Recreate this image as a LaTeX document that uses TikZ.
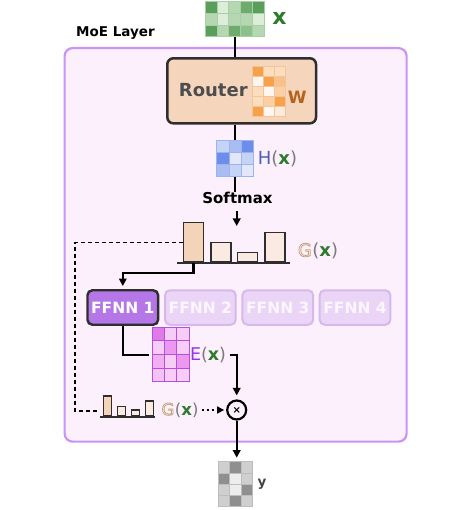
\documentclass[tikz,border=0pt]{standalone}
\usepackage{fontspec}
\setmainfont{DejaVu Sans}
\usetikzlibrary{arrows.meta,calc}

\definecolor{moefill}{HTML}{FCF0FC}
\definecolor{moeborder}{HTML}{C994F2}
\definecolor{routerfill}{HTML}{F5D6BD}
\definecolor{darkline}{HTML}{2E2E2E}
\definecolor{routertext}{HTML}{4D4D4D}
\definecolor{wcol}{HTML}{B4621E}
\definecolor{xgreen}{HTML}{2E7A2E}
\definecolor{hblue}{HTML}{4B5FB5}
\definecolor{epurple}{HTML}{9B30E8}
\definecolor{paren}{HTML}{7A7A7A}
\definecolor{ffnnA}{HTML}{B577E8}
\definecolor{ffnnB}{HTML}{EAD5F6}
\definecolor{ffnnBd}{HTML}{D6B9EA}
\definecolor{ffnnBt}{HTML}{FBF5FE}
\definecolor{barA}{HTML}{F4D4B8}
\definecolor{barB}{HTML}{FAEAE2}
\definecolor{gin}{HTML}{F9EEE2}
\definecolor{ytext}{HTML}{444444}
% green
\definecolor{gA}{HTML}{5A9E5C}
\definecolor{gA2}{HTML}{6EAB6D}
\definecolor{gB}{HTML}{8DC08C}
\definecolor{gC}{HTML}{B5D8B3}
\definecolor{gD}{HTML}{DCEEDA}
\definecolor{gline}{HTML}{A9CFA7}
% orange
\definecolor{oA}{HTML}{F7A14B}
\definecolor{oB}{HTML}{FAC08A}
\definecolor{oB2}{HTML}{FBCFA3}
\definecolor{oC}{HTML}{FCDDBE}
\definecolor{oD}{HTML}{FEEBDA}
\definecolor{oW}{HTML}{FFF7EF}
\definecolor{oline}{HTML}{F2C59A}
% blue
\definecolor{hA}{HTML}{6C8DEB}
\definecolor{hB}{HTML}{A9BDF2}
\definecolor{hC}{HTML}{C5D3F7}
\definecolor{hD}{HTML}{E2E8FA}
\definecolor{hline}{HTML}{9DB3EE}
% purple
\definecolor{eA}{HTML}{E07AE7}
\definecolor{eA2}{HTML}{EC98EE}
\definecolor{eB}{HTML}{F1AFF2}
\definecolor{eC}{HTML}{F7CCF7}
\definecolor{eC2}{HTML}{F4C2F5}
\definecolor{eline}{HTML}{B44FE3}
% gray
\definecolor{yA}{HTML}{8F8F8F}
\definecolor{yL}{HTML}{CFCFCF}
\definecolor{yD}{HTML}{EDEDED}
\definecolor{yline}{HTML}{BDBDBD}

\newcommand{\mygrid}[7]{%
  \foreach \rowlist [count=\r] in {#7} {
    \foreach \cc [count=\k] in \rowlist {
      \filldraw[fill=\cc, draw=#5, line width=#6]
        ({#1+(\k-1)*#3},{#2+(\r-1)*#4}) rectangle ++(#3,#4);
    }
  }
}
% outlined G: fill light, stroke tan (text render mode 2)
\newcommand{\hollowG}{{\color{gin}\special{pdf:literal direct 0.76 0.62 0.48 RG 0.75 w 1 j 2 Tr}G\special{pdf:literal direct 0 Tr}}}
\newcommand{\Gx}{\hollowG\kern0.6pt\textcolor{paren}{(}\textcolor{xgreen}{\bfseries x}\textcolor{paren}{)}}

\begin{document}
\begin{tikzpicture}[x=1pt,y=-1pt,
  lbl/.style={inner sep=0pt},
  gridnode/.style={inner sep=0pt, anchor=north west},
  conn/.style={draw=black, line width=2.1pt},
  arr/.style={draw=black, line width=2.1pt, -{Triangle[length=7.5pt,width=7.5pt]}},
  dashline/.style={draw=black, line width=1.6pt, dash pattern=on 4pt off 3pt},
  dotarr/.style={draw=black, line width=1.6pt, dash pattern=on 2pt off 3pt, -{Triangle[length=7pt,width=7pt]}},
  bar/.style={draw=darkline, line width=1.6pt, inner sep=0pt, anchor=south west, minimum width=20pt},
  sbar/.style={draw=darkline, line width=1.3pt, inner sep=0pt, anchor=south west, minimum width=8pt},
  ffnn/.style={rounded corners=5pt, minimum width=70.7pt, minimum height=34.5pt, inner sep=0pt,
    font=\bfseries\fontsize{15.5}{17}\selectfont},
  ffnnon/.style={ffnn, fill=ffnnA, draw=darkline, line width=2.4pt, text=white},
  ffnnoff/.style={ffnn, fill=ffnnB, draw=ffnnBd, line width=2pt, text=ffnnBt},
]
\useasboundingbox (0,0) rectangle (474,510);

% MoE layer box
\node[draw=moeborder, fill=moefill, line width=2.2pt, rounded corners=8pt, inner sep=0pt,
  minimum width=342pt, minimum height=393.5pt, anchor=north west] (moe) at (63.5,47) {};
\node[lbl, font=\bfseries\fontsize{13.5}{15}\selectfont] (moelbl) at (115.5,33.3) {MoE Layer};

% input x
\node[gridnode, minimum width=59.3pt, minimum height=35pt] (X) at (205,1.7) {};
\mygrid{205}{1.7}{11.86}{11.67}{gline}{0.6pt}{{gA,gD,gC,gA2,gA},{gC,gD,gC,gC,gD},{gA,gC,gA2,gB,gC}}
\node[lbl, text=xgreen, font=\bfseries\fontsize{22}{22}\selectfont] (xl) at (279.5,18.5) {x};

% Router
\node[draw=darkline, fill=routerfill, line width=2.5pt, rounded corners=6pt, inner sep=0pt,
  minimum width=148.7pt, minimum height=65pt] (router) at (241.65,90.8) {};
\node[lbl, text=routertext, font=\bfseries\fontsize{18}{20}\selectfont] (routerlbl) at (213.3,90) {Router};
\node[gridnode, minimum width=33pt, minimum height=49.4pt] (W) at (252.7,66.7) {};
\mygrid{252.7}{66.7}{11}{9.88}{oline}{0.6pt}{{oA,oC,oC},{oW,oA,oB},{oC,oW,oB2},{oC,oB2,oA},{oA,oW,oD}}
\node[lbl, text=wcol, font=\bfseries\fontsize{17}{17}\selectfont] (wl) at (297.3,97) {W};

\draw[conn] (X.south) -- (X.south |- router.north);

% H(x)
\node[gridnode, minimum width=36.6pt, minimum height=36.7pt] (H) at (216.7,140) {};
\mygrid{216.7}{140}{12.2}{12.23}{hline}{0.6pt}{{hC,hB,hA},{hA,hD,hC},{hB,hC,hD}}
\node[lbl, font=\fontsize{18}{18}\selectfont] (hl) at (277.5,159.3)
  {\textcolor{hblue}{H}\textcolor{paren}{(}\textcolor{xgreen}{\bfseries x}\textcolor{paren}{)}};
\draw[conn] (router.south -| H.north) -- (H.north);

% Softmax
\node[lbl, font=\bfseries\fontsize{15}{16}\selectfont] (sm) at (237.5,198.3) {Softmax};
\draw[conn] (H.south) -- (H.south |- sm.north);
\coordinate (smtip) at (236.7,226);
\draw[arr, shorten <=7pt] (sm.south -| smtip) -- (smtip);

% gating bar chart
\node[bar, fill=barA, minimum height=39.7pt] (b1) at (182.7,263) {};
\node[bar, fill=barB, minimum height=19.7pt] (b2) at (210,263) {};
\node[bar, fill=barB, minimum height=9.7pt] (b3) at (236.7,263) {};
\node[bar, fill=barB, minimum height=29.7pt] (b4) at (264.3,263) {};
\coordinate (g0) at (177.3,263);
\coordinate (g1) at (290,263);
\draw[draw=darkline, line width=2pt] (g0) -- (g1);
\node[lbl, font=\fontsize{18}{18}\selectfont] (gx) at (318,251) {\Gx};

% FFNN experts
\node[ffnnon] (f1) at (122.8,307.5) {FFNN 1};
\node[ffnnoff] (f2) at (200.35,307.5) {FFNN 2};
\node[ffnnoff] (f3) at (277.8,307.5) {FFNN 3};
\node[ffnnoff] (f4) at (355,307.5) {FFNN 4};
\draw[arr, shorten >=3pt] (b1.south) -- ++(0,10.3) -| (f1.north);

% E(x)
\node[gridnode, minimum width=36.3pt, minimum height=54.7pt] (E) at (152.7,327) {};
\mygrid{152.7}{327}{12.1}{13.67}{eline}{1pt}{{eA,eC,eC},{eC,eA2,eC},{eB,eC,eA2},{eC2,eC,eC}}
\node[lbl, font=\fontsize{17.5}{18}\selectfont] (Ex) at (208,355)
  {\textcolor{epurple}{E}\textcolor{paren}{(}\textcolor{xgreen}{\bfseries x}\textcolor{paren}{)}};
\draw[conn, shorten >=4pt] (f1.south) |- (E.west);

% multiply
\node[circle, draw=black, line width=2.2pt, minimum size=19pt, inner sep=0pt, fill=moefill,
  font=\bfseries\fontsize{10}{10}\selectfont] (mul) at (236.7,410) {×};
\draw[arr, shorten >=4pt] ([xshift=4pt]Ex.east) -| (mul.north);

% small bar chart
\node[sbar, fill=barA, minimum height=20pt] (sb1) at (102.5,416.7) {};
\node[sbar, fill=barB, minimum height=9.7pt] (sb2) at (116.5,416.7) {};
\node[sbar, fill=barB, minimum height=6pt] (sb3) at (130.5,416.7) {};
\node[sbar, fill=barB, minimum height=15pt] (sb4) at (144.5,416.7) {};
\coordinate (sg0) at (100,416.7);
\coordinate (sg1) at (155,416.7);
\draw[draw=darkline, line width=1.7pt] (sg0) -- (sg1);
\node[lbl, font=\fontsize{16.5}{17}\selectfont] (sgx) at (180,410) {\Gx};
\draw[dotarr, shorten >=2pt] ([xshift=3pt]sgx.east) -- (mul.west);

% dashed skip
\coordinate (dcol) at (75,330);
\coordinate (dend) at (98,410.7);
\draw[dashline] (b1.west) -| (dcol) |- (dend);

% output y
\node[gridnode, minimum width=34.4pt, minimum height=45pt] (Y) at (218.3,461.7) {};
\mygrid{218.3}{461.7}{11.47}{11.25}{yline}{0.6pt}{{yL,yA,yL},{yA,yD,yL},{yL,yD,yA},{yL,yA,yL}}
\node[lbl, text=ytext, font=\bfseries\fontsize{13.5}{14}\selectfont] (yl) at (262,484) {y};
\draw[arr, shorten >=4pt] (mul.south) -- (mul.south |- Y.north);
\end{tikzpicture}
\end{document}
